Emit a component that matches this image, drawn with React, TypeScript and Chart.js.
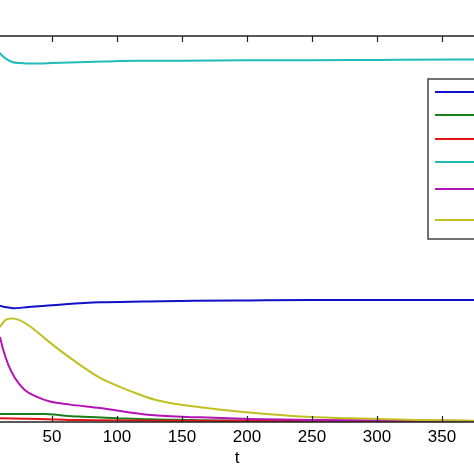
import React, { useEffect, useRef } from "react";
import { Chart, registerables } from "chart.js";

Chart.register(...registerables);

// Time points and series values
const tCyan = [10, 12, 15, 20, 25, 30, 40, 50, 70, 90, 115, 150, 200, 250, 300, 361, 380];
const vCyan = [0.956, 0.948, 0.94, 0.932, 0.93, 0.929, 0.929, 0.93, 0.932, 0.934, 0.936, 0.936, 0.937, 0.937, 0.938, 0.939, 0.939];

const tBlue = [10, 15, 20, 30, 45, 60, 87, 120, 160, 200, 250, 300, 380];
const vBlue = [0.301, 0.297, 0.295, 0.297, 0.301, 0.305, 0.31, 0.312, 0.314, 0.315, 0.316, 0.316, 0.316];

const tYellow = [10, 14, 19, 25, 35, 48, 64, 87, 112, 130, 164, 200, 241, 280, 330, 380];
const vYellow = [0.246, 0.264, 0.268, 0.264, 0.243, 0.207, 0.166, 0.114, 0.078, 0.057, 0.038, 0.025, 0.014, 0.0096, 0.005, 0.0034];

const tMagenta = [10, 12.5, 16.4, 21.5, 29, 38.5, 48.5, 64, 87, 126, 164, 202, 250, 300, 380];
const vMagenta = [0.22, 0.187, 0.148, 0.114, 0.083, 0.065, 0.053, 0.045, 0.036, 0.018, 0.012, 0.008, 0.005, 0.004, 0.0026];

const tGreen = [10, 45, 55, 70, 100, 125, 180, 250, 380];
const vGreen = [0.021, 0.021, 0.018, 0.014, 0.01, 0.007, 0.004, 0.0026, 0.0018];

const tRed = [10, 40, 71, 150, 380];
const vRed = [0.0096, 0.0078, 0.005, 0.0034, 0.0026];

const xTicks = [50, 100, 150, 200, 250, 300, 350];
const xTitle = "t";

const seriesNames = ["s1", "s2", "s3", "s4", "s5", "s6"];
const seriesColors = ["#1010c8", "#1a7f1a", "#e01414", "#20baba", "#b414b4", "#c0c020"];

const toPoints = (t: number[], v: number[]) => t.map((x, i) => ({ x, y: v[i] }));

const frame = {
  id: "frame",
  afterDatasetsDraw(chart: any) {
    const { ctx, chartArea } = chart;
    const xs = chart.scales.x;
    const { left, right, top, bottom } = chartArea;
    ctx.save();
    ctx.strokeStyle = "#222";
    ctx.lineWidth = 1.5;
    ctx.beginPath();
    ctx.moveTo(left, top);
    ctx.lineTo(right, top);
    ctx.moveTo(left, bottom);
    ctx.lineTo(right, bottom);
    ctx.stroke();
    ctx.lineWidth = 1.2;
    ctx.beginPath();
    for (const v of xTicks) {
      const px = Math.round(xs.getPixelForValue(v)) + 0.5;
      ctx.moveTo(px, top);
      ctx.lineTo(px, top + 6);
      ctx.moveTo(px, bottom);
      ctx.lineTo(px, bottom - 6);
    }
    ctx.stroke();

    // legend box (labels fall outside the picture)
    const bx = 428, by = 79, bh = 160;
    ctx.fillStyle = "#fff";
    ctx.fillRect(bx, by, 200, bh);
    ctx.strokeStyle = "#444";
    ctx.lineWidth = 1.5;
    ctx.strokeRect(bx, by, 200, bh);
    const ly = [92, 115, 139, 162, 189, 220];
    ctx.lineWidth = 2;
    chart.data.datasets.forEach((ds: any, i: number) => {
      ctx.strokeStyle = ds.borderColor;
      ctx.beginPath();
      ctx.moveTo(435, ly[i]);
      ctx.lineTo(480, ly[i]);
      ctx.stroke();
    });
    ctx.restore();
  },
};

export default function App() {
  const ref = useRef<HTMLCanvasElement | null>(null);
  useEffect(() => {
    if (!ref.current) return;
    const series = [
      toPoints(tBlue, vBlue),
      toPoints(tGreen, vGreen),
      toPoints(tRed, vRed),
      toPoints(tCyan, vCyan),
      toPoints(tMagenta, vMagenta),
      toPoints(tYellow, vYellow),
    ];
    const chart = new Chart(ref.current, {
      type: "line",
      data: {
        datasets: series.map((d, i) => ({
          label: seriesNames[i],
          data: d,
          borderColor: seriesColors[i],
          backgroundColor: seriesColors[i],
          borderWidth: 2,
          pointRadius: 0,
          fill: false,
          cubicInterpolationMode: "monotone",
          order: 6 - i,
        })),
      },
      options: {
        animation: false,
        responsive: false,
        layout: { padding: { top: 36, left: 0, right: 0, bottom: 0 } },
        plugins: { legend: { display: false }, tooltip: { enabled: false } },
        scales: {
          x: {
            type: "linear",
            min: 10,
            max: 374.6,
            grid: { display: false, drawTicks: false },
            border: { display: false },
            afterBuildTicks: (scale: any) => {
              scale.ticks = xTicks.map((v) => ({ value: v }));
            },
            afterFit: (scale: any) => {
              scale.height = 52;
            },
            ticks: {
              color: "#000",
              padding: 5,
              maxRotation: 0,
              autoSkip: false,
              font: { family: "'Liberation Sans', Arial, sans-serif", size: 17 },
            },
            title: {
              display: true,
              text: xTitle,
              color: "#000",
              padding: { top: 0, bottom: 5 },
              font: { family: "'Liberation Sans', Arial, sans-serif", size: 17 },
            },
          },
          y: { display: false, min: 0, max: 1 },
        },
      },
      plugins: [frame],
    });
    return () => chart.destroy();
  }, []);
  return (
    <div style={{ position: "absolute", left: 0, top: 0, width: 474, height: 474, background: "#fff" }}>
      <canvas ref={ref} width={474} height={474} style={{ display: "block" }} />
    </div>
  );
}
